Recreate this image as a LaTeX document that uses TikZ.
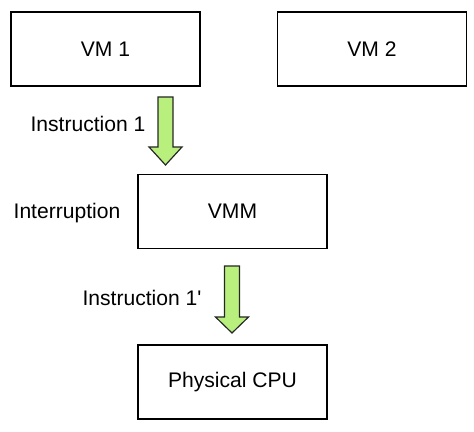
\documentclass[tikz,border=0pt]{standalone}
\usepackage{fontspec}
\setmainfont{Liberation Sans}

\definecolor{arrowgreen}{RGB}{185,240,125}

\tikzset{
  box/.style={draw, line width=1.3pt, minimum width=5.67cm, minimum height=2.22cm,
    font=\fontsize{18}{21}\selectfont},
  lbl/.style={font=\fontsize{18}{21}\selectfont},
  fatarrow/.style={draw=black!85, fill=arrowgreen, line width=1pt, line join=miter},
}

% x, top of shaft, base of head, tip
\newcommand{\greenarrow}[4]{%
  \draw[fatarrow] (#1-7.5,#2) -- (#1+7.5,#2) -- (#1+7.5,#3) -- (#1+16.5,#3)
    -- (#1,#4) -- (#1-16.5,#3) -- (#1-7.5,#3) -- cycle;}

\begin{document}
\begin{tikzpicture}[x=0.03cm,y=-0.03cm]
  \useasboundingbox (0,0) rectangle (474,432);

  \node[box] (vm1) at (105.5,49) {VM 1};
  \node[box] (vm2) at (372,49) {VM 2};
  \node[box] (vmm) at (232.5,211.5) {VMM};
  \node[box] (cpu) at (232.5,382) {Physical CPU};

  \greenarrow{165.5}{97}{147}{165}
  \greenarrow{232}{266}{317}{333}

  \node[lbl] (ins1) at (88,124) {Instruction 1};
  \node[lbl] (intr) at (67,213) {Interruption};
  \node[lbl] (ins1p) at (142,298) {Instruction 1\textquotesingle};
\end{tikzpicture}
\end{document}
